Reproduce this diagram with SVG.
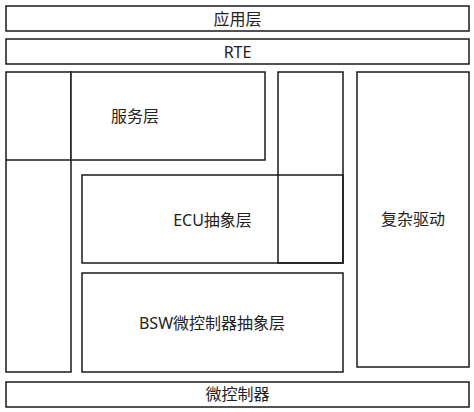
<svg xmlns="http://www.w3.org/2000/svg" width="474" height="412" viewBox="0 0 474 412">
<style>
rect{fill:#fff;stroke:#1a1a1a;stroke-width:1.5}
line{stroke:#1a1a1a;stroke-width:1.5}
text{font-family:"Noto Sans","Noto Sans CJK SC",sans-serif;font-size:16px;fill:#222;text-anchor:middle;dominant-baseline:central}
</style>
<rect x="0" y="0" width="474" height="412" style="stroke:none"/>
<g id="app"><rect x="6" y="6" width="463" height="25"/><text x="237.5" y="18.5">应用层</text></g>
<g id="rte"><rect x="6" y="39" width="463" height="25"/><text x="237.5" y="51.5">RTE</text></g>
<g id="left-col"><rect x="6" y="72" width="65" height="300"/><line x1="6" y1="160" x2="71" y2="160"/></g>
<g id="service"><rect x="71" y="72" width="194" height="88"/><text x="135" y="116">服务层</text></g>
<g id="ecu"><rect x="82" y="175" width="261" height="88"/><text x="212.5" y="220">ECU抽象层</text></g>
<g id="right-col"><rect x="278" y="72" width="65" height="191" style="fill:none"/></g>
<g id="bsw"><rect x="82" y="273" width="261" height="99"/><text x="212" y="323">BSW微控制器抽象层</text></g>
<g id="cdd"><rect x="357" y="72" width="112" height="295"/><text x="413" y="219">复杂驱动</text></g>
<g id="mcu"><rect x="6" y="382" width="463" height="25"/><text x="237.5" y="394">微控制器</text></g>
<g id="connectors"></g>
</svg>
